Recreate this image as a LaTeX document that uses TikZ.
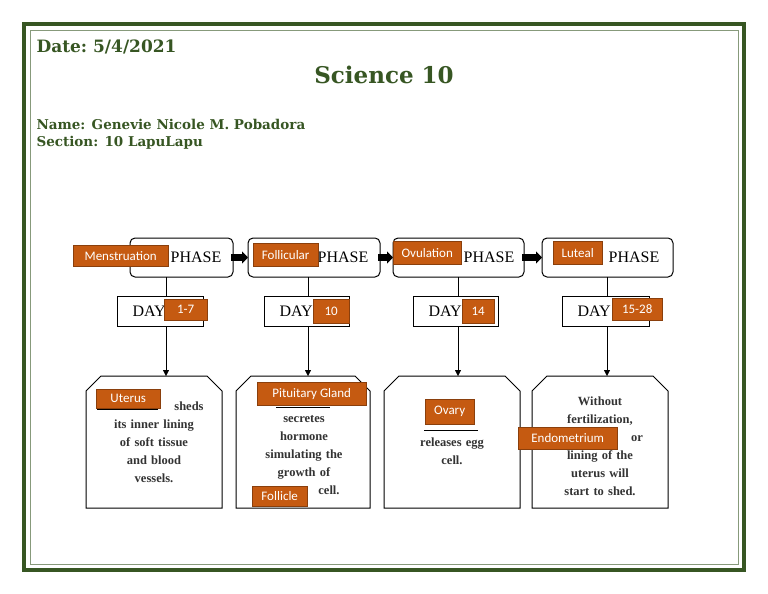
\documentclass[tikz,border=0pt]{standalone}
\usepackage{fontspec}
\setmainfont{Liberation Serif}
\newfontfamily\lbl{Carlito}
\newfontfamily\hdr{DejaVu Serif}
\usetikzlibrary{arrows.meta}
\definecolor{org}{HTML}{C55A11}
\definecolor{grn}{HTML}{375623}
\begin{document}
\begin{tikzpicture}[x=1pt,y=-1pt,
 tag/.style={fill=org,draw=org!70!black,text=white,font=\lbl\fontsize{13}{13}\selectfont,inner sep=0pt,anchor=north west},
 phasebox/.style={draw,rounded corners=5pt,line width=1pt},
 daybox/.style={draw,line width=0.8pt},
 card/.style={draw,line width=1pt},
 ctext/.style={font=\bfseries\fontsize{12.5}{18}\selectfont,text=black!80,align=center,text width=130pt}]
\useasboundingbox (0,0) rectangle (768,594);
\fill[white] (0,0) rectangle (768,594);
\draw[grn,line width=4pt] (24,24) rectangle (744,570);
\draw[grn!60,line width=0.8pt] (30,30) rectangle (738,564);
\node[anchor=west,text=grn,font=\hdr\bfseries\fontsize{17}{17}\selectfont] (date) at (33,47) {Date:\ 5/4/2021};
\node[text=grn,font=\hdr\bfseries\fontsize{23}{23}\selectfont] (sci) at (384,75) {Science 10};
\node[anchor=west,text=grn,font=\hdr\bfseries\fontsize{13.5}{13.5}\selectfont] (nm) at (33,124) {Name: Genevie Nicole M. Pobadora};
\node[anchor=west,text=grn,font=\hdr\bfseries\fontsize{13.5}{13.5}\selectfont] (sec) at (33,143) {Section: 10 LapuLapu};
% phase boxes
\foreach \n/\a/\b/\px in {1/130/233/196, 2/248/380/343, 3/393/524/489, 4/542/673/634}{
  \draw[phasebox] (\a,238) rectangle (\b,277);
  \node[font=\fontsize{16}{16}\selectfont] (ph\n) at (\px,257) {PHASE};
}
\foreach \a/\b in {233/248,380/393,524/542}{
  \draw[line width=7pt,-{Triangle[length=6pt,width=12pt]}] (\a-2,257.5) -- (\b,257.5);
}
% day boxes
\foreach \n/\a/\b/\lx in {1/117/203/166, 2/264/349/308, 3/413/498/458, 4/562/649/607}{
  \draw (\lx,277) -- (\lx,296);
  \draw[daybox] (\a,296) rectangle (\b,326);
  \node[font=\fontsize{16}{16}\selectfont,anchor=west] (day\n) at (\a+12,311) {DAY};
  \coordinate (c\n) at (\lx,376);
  \draw[-{Triangle[length=6pt,width=6pt]}] (\lx,326) -- (c\n);
}
% cards
\foreach \a/\b in {86/222,236/370,384/520,532/668}{
  \draw[card] (\a,508) -- (\a,391) -- (\a+15,376) -- (\b-15,376) -- (\b,391) -- (\b,508) -- cycle;
}
\node[tag,minimum width=95pt,minimum height=21pt] (t1) at (73,245) {Menstruation};
\node[tag,minimum width=65pt,minimum height=23pt] (t2) at (253,243) {Follicular};
\node[tag,minimum width=68pt,minimum height=23pt] (t3) at (393,241) {Ovulation};
\node[tag,minimum width=49pt,minimum height=23pt] (t4) at (553,241) {Luteal};
\node[tag,minimum width=43pt,minimum height=21pt] (d1) at (164,299) {1-7};
\node[tag,minimum width=36pt,minimum height=24pt] (d2) at (313,299) {10};
\node[tag,minimum width=32pt,minimum height=24pt] (d3) at (462,299) {14};
\node[tag,minimum width=50pt,minimum height=22pt] (d4) at (612,298) {15-28};
% card texts
\node[ctext] (x1) at (154,442) {\hspace*{70pt}sheds\\its inner lining\\of soft tissue\\and blood\\vessels.};
\draw (97,409) -- (158,409);
\node[ctext] (x2) at (304,455) {secretes\\hormone\\simulating the\\growth of\\\hspace*{50pt}cell.};
\draw (276,407) -- (330,407);
\node[ctext] (x3) at (452,451) {releases egg\\cell.};
\draw (424,430) -- (478,430);
\node[ctext] (x4) at (600,446) {Without\\fertilization,\\\hspace*{74pt}or\\lining of the\\uterus will\\start to shed.};
\node[tag,minimum width=64pt,minimum height=19pt] (u) at (96,389) {Uterus};
\node[tag,minimum width=109pt,minimum height=23pt] (pg) at (257,382) {Pituitary Gland};
\node[tag,minimum width=55pt,minimum height=20pt] (fo) at (252,486) {Follicle};
\node[tag,minimum width=49pt,minimum height=25pt] (ov) at (425,399) {Ovary};
\node[tag,minimum width=99pt,minimum height=22pt] (en) at (518,427) {Endometrium};
\end{tikzpicture}
\end{document}
